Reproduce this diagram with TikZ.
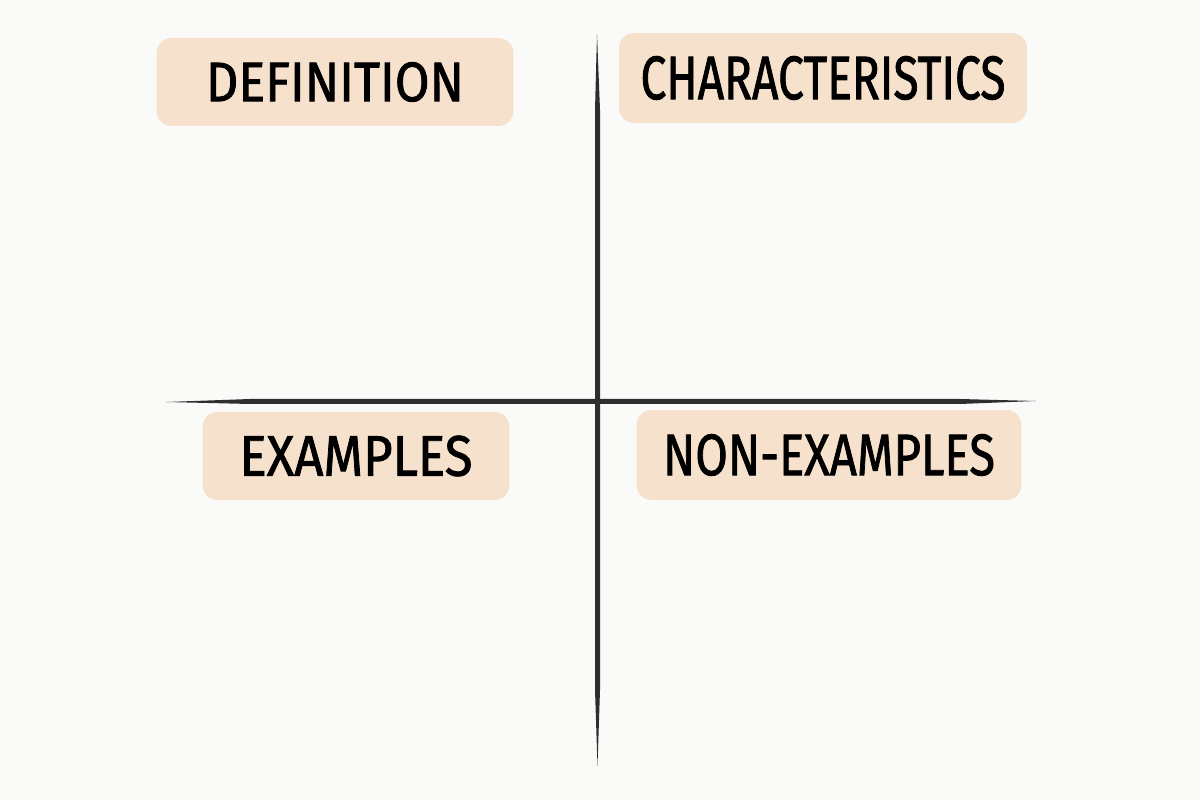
\documentclass[tikz,border=0pt]{standalone}
\usepackage{fontspec}
\setmainfont{Fira Sans}
\newfontfamily\tagfont[FakeBold=1.5]{Fira Sans}
\usepackage{tikz}
\usetikzlibrary{positioning}

\definecolor{paper}{HTML}{FAFAF9}
\definecolor{peach}{HTML}{F6E2CC}
\definecolor{ink}{HTML}{2E2E2E}

\newcommand{\tagtext}[3]{\resizebox{#2}{#3}{\tagfont #1}}

\begin{document}
\begin{tikzpicture}
  [x=0.02cm,y=-0.02cm,
   tagbox/.style={fill=peach,rounded corners=0.3cm,inner sep=0pt,text=black}]
  \fill[paper] (0,0) rectangle (1200,800);
  \useasboundingbox (0,0) rectangle (1200,800);

  % the two crossing strokes
  \fill[ink] (597,34) -- (600,110) -- (600,690) -- (597.5,766)
    -- (595,690) -- (595,110) -- cycle;
  \fill[ink] (166,402) -- (250,399) -- (960,399) -- (1036,401)
    -- (960,404) -- (250,404) -- cycle;

  \node[tagbox,minimum width=7.14cm,minimum height=1.76cm] (def) at (335,82)
    {\tagtext{DEFINITION}{5.16cm}{0.78cm}};
  \node[tagbox,minimum width=8.16cm,minimum height=1.8cm] (char) at (823,78)
    {\tagtext{CHARACTERISTICS}{7.3cm}{0.86cm}};
  \node[tagbox,minimum width=6.14cm,minimum height=1.76cm] (ex) at (356,456)
    {\tagtext{EXAMPLES}{4.66cm}{0.8cm}};
  \node[tagbox,minimum width=7.7cm,minimum height=1.8cm] (nonex) at (829,455)
    {\tagtext{NON-EXAMPLES}{6.64cm}{0.82cm}};

\end{tikzpicture}
\end{document}
